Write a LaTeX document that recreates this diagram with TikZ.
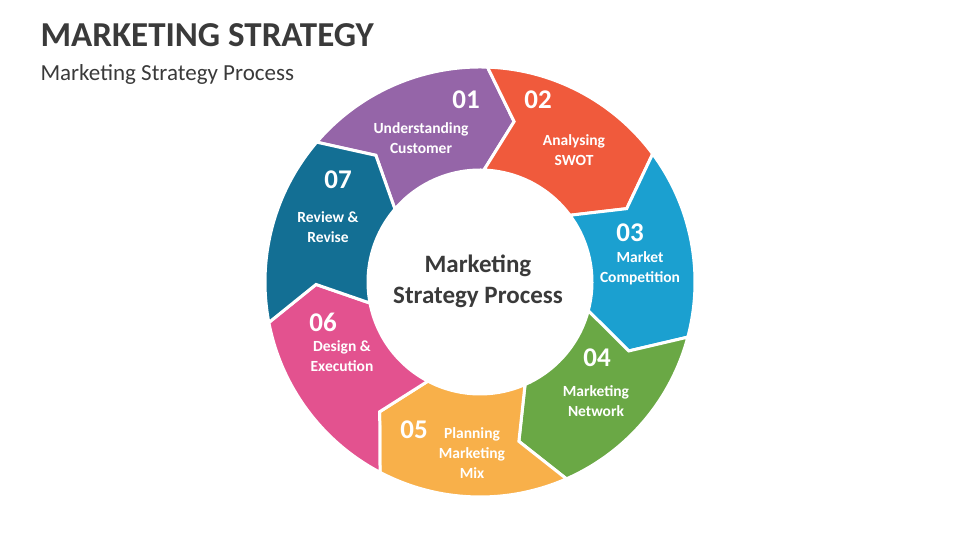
\documentclass[tikz,border=0pt]{standalone}
\usepackage{fontspec}
\setmainfont{Carlito}
\definecolor{purp}{HTML}{9565A8}
\definecolor{orng}{HTML}{F05A3C}
\definecolor{blu}{HTML}{1BA0D0}
\definecolor{grn}{HTML}{6AA845}
\definecolor{yel}{HTML}{F8B04A}
\definecolor{pnk}{HTML}{E3528F}
\definecolor{tea}{HTML}{136F94}
\definecolor{dk}{HTML}{3A3A3A}
\begin{document}
\begin{tikzpicture}[x=1pt,y=1pt,
  num/.style={text=white,font=\bfseries\fontsize{27}{27}\selectfont},
  lbl/.style={text=white,font=\bfseries\fontsize{15.5}{20}\selectfont,align=center}]
\useasboundingbox (0,0) rectangle (960,540);
\node[anchor=west,text=dk,font=\bfseries\fontsize{35}{35}\selectfont] (title) at (37,505) {MARKETING STRATEGY};
\node[anchor=west,text=dk,font=\fontsize{23}{23}\selectfont] (sub) at (37,466) {Marketing Strategy Process};
\begin{scope}[shift={(480,258)}]
\foreach \s/\c in {139.43/purp,88/orng,36.57/blu,-14.86/grn,-66.29/yel,-117.71/pnk,-169.14/tea}{
  \pgfmathsetmacro{\e}{\s-51.43}
  \fill[\c,draw=white,line width=3pt,line join=miter]
   (\s:215pt) arc[start angle=\s,end angle=\e,radius=215pt] -- (\e-10:164pt) -- (\e:112pt)
   arc[start angle=\e,end angle=\s,radius=112pt] -- (\s-10:164pt) -- cycle;
}
\fill[white] (0,0) circle (110pt);
\end{scope}
\node[text=dk,font=\bfseries\fontsize{25}{31}\selectfont,align=center] (ctr) at (478,259) {Marketing\\Strategy Process};
\node[num] (n1) at (466,440) {01};
\node[lbl] (t1) at (421,402) {Understanding\\Customer};
\node[num] (n2) at (538,440) {02};
\node[lbl] (t2) at (574,390) {Analysing\\SWOT};
\node[num] (n3) at (630,307) {03};
\node[lbl] (t3) at (640,272) {Market\\Competition};
\node[num] (n4) at (597,182) {04};
\node[lbl] (t4) at (596,139) {Marketing\\Network};
\node[num] (n5) at (414,110) {05};
\node[lbl] (t5) at (472,87) {Planning\\Marketing\\Mix};
\node[num] (n6) at (323,218) {06};
\node[lbl] (t6) at (342,184) {Design \&\\Execution};
\node[num] (n7) at (338,360) {07};
\node[lbl] (t7) at (328,313) {Review \&\\Revise};
\end{tikzpicture}
\end{document}
